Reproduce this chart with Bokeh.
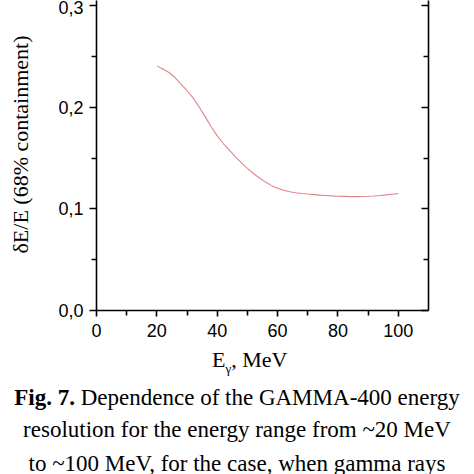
from bokeh.plotting import figure
from bokeh.models import LinearAxis, FixedTicker, Range1d, Div
from bokeh.layouts import column
from bokeh.embed import file_html
from bokeh.resources import INLINE

# Data
energy_mev = [20, 22, 24, 26, 28, 30, 32, 34, 36, 38, 40, 42, 44, 46, 48, 50, 52, 54, 56, 58, 60,
              62, 64, 66, 68, 70, 72, 74, 76, 78, 80, 82, 84, 86, 88, 90, 92, 94, 96, 98, 100]
resolution = [0.241, 0.238, 0.2345, 0.2295, 0.223, 0.2165, 0.2095, 0.2005, 0.191, 0.181, 0.172,
              0.1645, 0.158, 0.1515, 0.1455, 0.1400, 0.1350, 0.1305, 0.1265, 0.1230, 0.1205,
              0.1185, 0.1170, 0.1160, 0.1153, 0.1147, 0.1142, 0.1137, 0.1133, 0.1129, 0.1126,
              0.1124, 0.1122, 0.1122, 0.1123, 0.1125, 0.1128, 0.1133, 0.1139, 0.1146, 0.1153]
x_ticks = [0, 20, 40, 60, 80, 100]
x_minor = [10, 30, 50, 70, 90]
y_ticks = [0.0, 0.1, 0.2, 0.3]
y_minor = [0.05, 0.15, 0.25]
y_tick_labels = ["0,0", "0,1", "0,2", "0,3"]
y_title = "\u03b4E/E (68% containment)"
x_title_main = "E"
x_title_sub = "\u03b3"
x_title_rest = ", MeV"
caption_bold = "Fig. 7."
caption_lines = ["Dependence of the GAMMA-400 energy",
                 "resolution for the energy range from ~20 MeV",
                 "to ~100 MeV, for the case, when gamma rays"]

H1 = 345
p = figure(width=474, height=H1, x_range=Range1d(0, 110), y_range=Range1d(0, 0.3054),
           output_backend="svg", toolbar_location=None,
           min_border_left=96, min_border_right=46, min_border_top=0,
           min_border_bottom=35)
p.outline_line_color = None
p.xgrid.visible = False
p.ygrid.visible = False

p.line(energy_mev, resolution, line_color="#e0848c", line_width=1.1)

tick_font = "Liberation Sans"
serif = "Liberation Serif"

xa = p.xaxis[0]
xa.ticker = FixedTicker(ticks=x_ticks, minor_ticks=x_minor)
xa.major_label_text_font = tick_font
xa.major_label_text_font_size = "18px"
xa.major_label_text_color = "black"
xa.major_label_standoff = 7
xa.axis_line_width = 1.6
xa.major_tick_line_width = 1.6
xa.minor_tick_line_width = 1.6
xa.major_tick_in = 0
xa.major_tick_out = 6
xa.minor_tick_in = 0
xa.minor_tick_out = 5

ya = p.yaxis[0]
ya.ticker = FixedTicker(ticks=y_ticks, minor_ticks=y_minor)
ya.major_label_overrides = {t: l for t, l in zip(y_ticks, y_tick_labels)}
ya.major_label_text_font = tick_font
ya.major_label_text_font_size = "18px"
ya.major_label_text_color = "black"
ya.major_label_standoff = 6
ya.axis_line_width = 1.6
ya.major_tick_line_width = 1.6
ya.minor_tick_line_width = 1.6
ya.major_tick_in = 0
ya.major_tick_out = 7
ya.minor_tick_in = 0
ya.minor_tick_out = 5
ya.axis_label = "\u00a0\u00a0\u00a0\u00a0" + y_title
ya.axis_label_text_font = serif
ya.axis_label_text_font_size = "22px"
ya.axis_label_text_font_style = "normal"
ya.axis_label_text_color = "black"
ya.axis_label_standoff = 22

ra = LinearAxis(ticker=FixedTicker(ticks=y_ticks, minor_ticks=y_minor))
ra.major_label_overrides = {t: "" for t in y_ticks}
ra.axis_line_width = 1.6
ra.major_tick_line_width = 1.6
ra.minor_tick_line_width = 1.6
ra.major_tick_in = 7
ra.major_tick_out = 0
ra.minor_tick_in = 5
ra.minor_tick_out = 0
p.add_layout(ra, "right")

# lower block: x-axis title and the figure caption
H2 = 474 - H1
font = "font-family:'Liberation Serif',serif;color:black;white-space:nowrap;"

def line_div(top, inner, size=23):
    return ('<div style="position:absolute;left:0;top:%.1fpx;width:474px;text-align:center;'
            'font-size:%dpx;line-height:%dpx;%s">%s</div>' % (top, size, size, font, inner))

html = '<div style="position:relative;width:474px;height:%dpx;overflow:hidden;margin:0;padding:0;">' % H2
html += ('<div style="position:absolute;left:212px;top:3.6px;font-size:22px;line-height:22px;%s">'
         '%s<span style="position:relative;top:6px;font-size:13px;">%s</span>%s</div>'
         % (font, x_title_main, x_title_sub, x_title_rest))
html += line_div(40.8, "<b>%s</b> %s" % (caption_bold, caption_lines[0]))
html += line_div(72.8, caption_lines[1])
html += line_div(106.8, caption_lines[2])
html += '</div>'

cap = Div(text=html, width=474, height=H2, margin=0)

layout = column(p, cap, spacing=0)
open("out.html", "w").write(file_html(layout, INLINE))
